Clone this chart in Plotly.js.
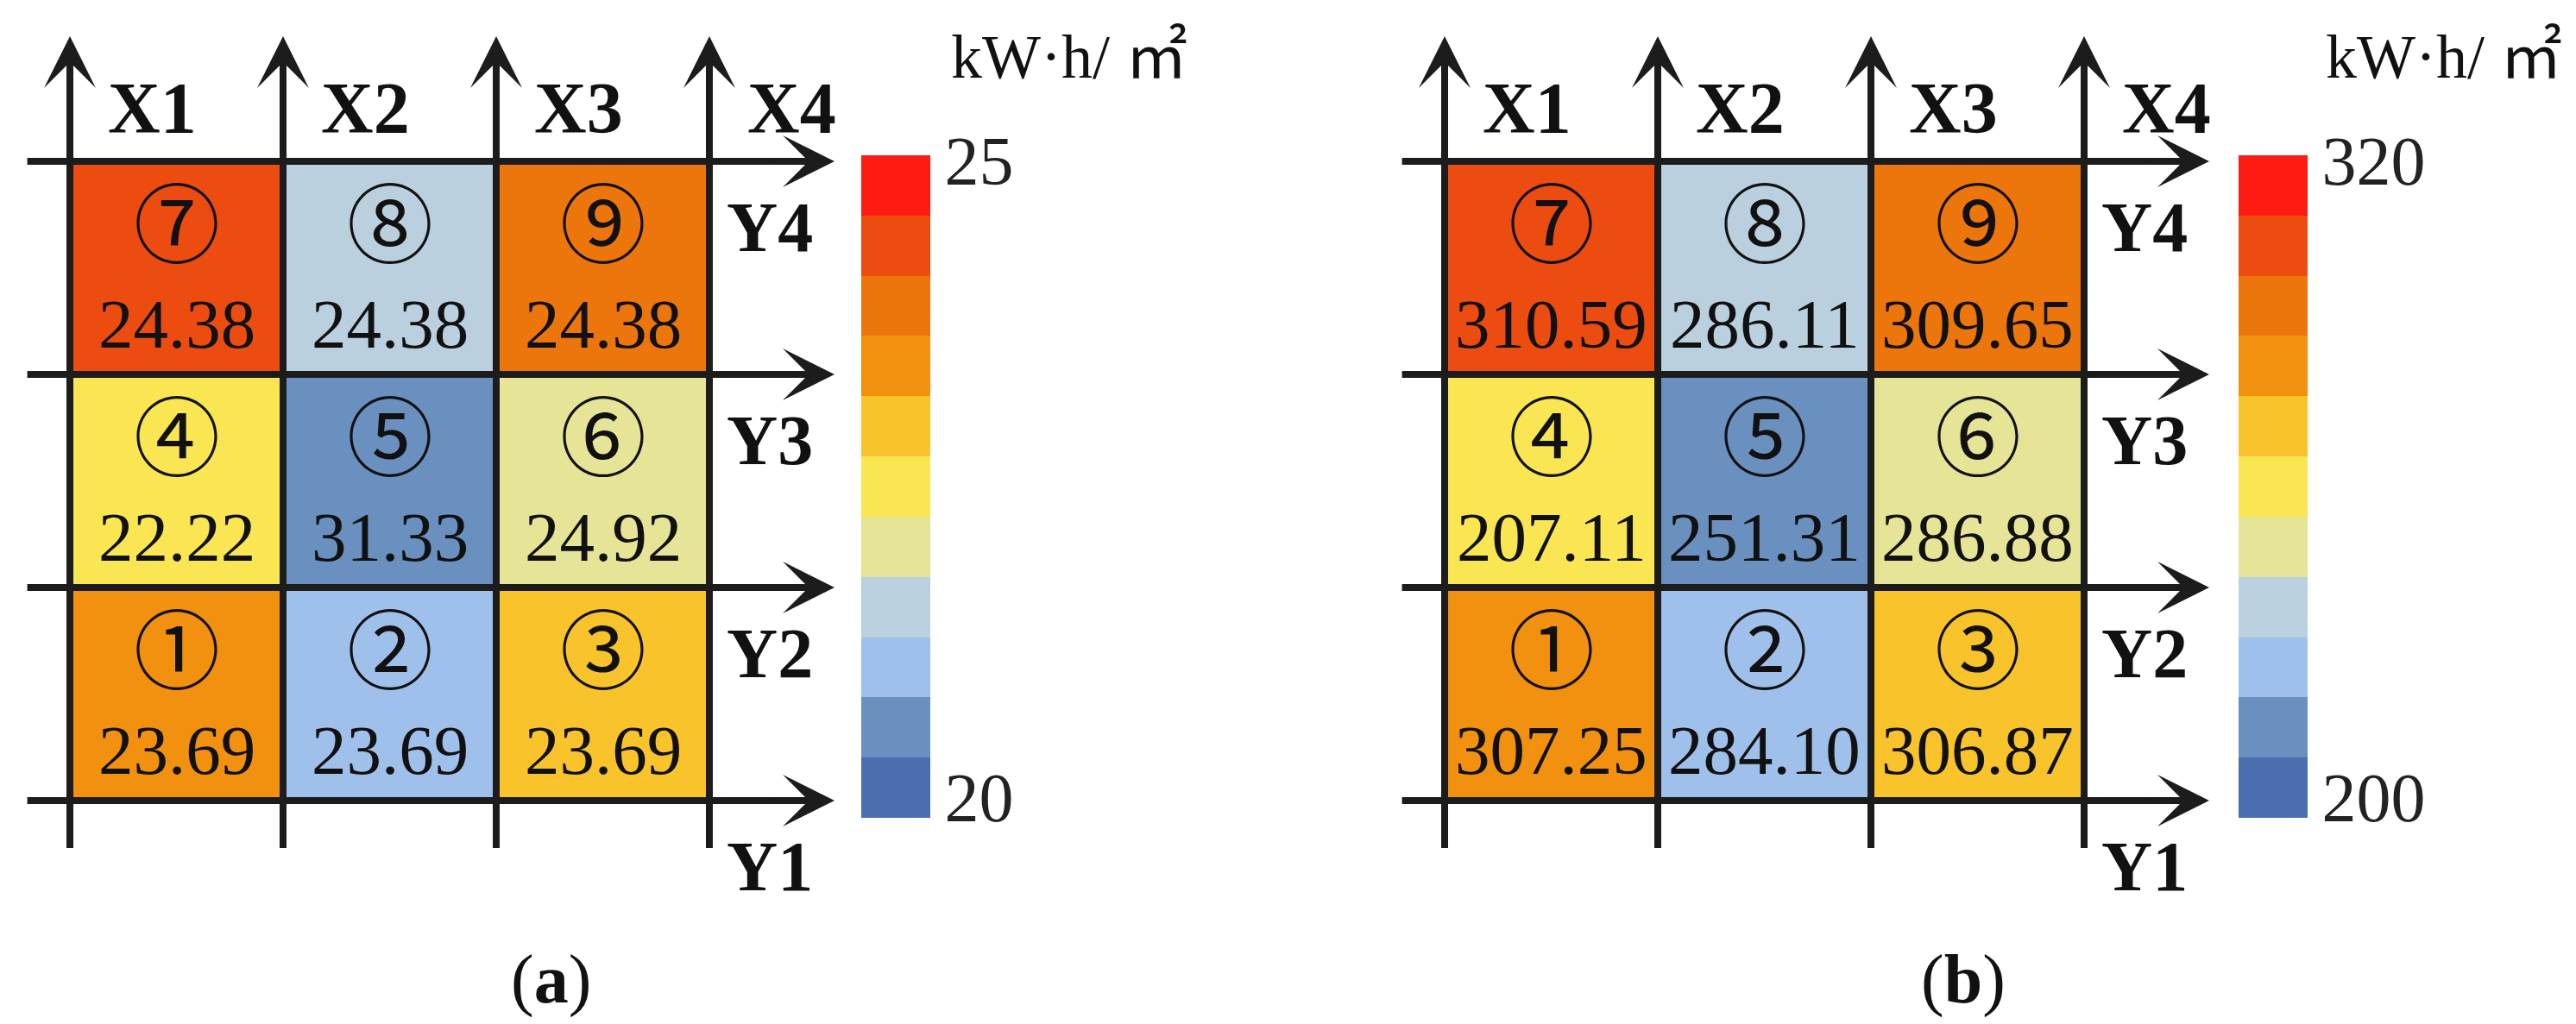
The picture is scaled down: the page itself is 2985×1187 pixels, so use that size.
<!DOCTYPE html>
<html><head><meta charset="utf-8">
<script src="https://cdn.plot.ly/plotly-3.0.1.min.js"></script>
<style>html,body{margin:0;padding:0;background:#fff}</style>
</head><body><div id="chart" style="width:2985px;height:1187px"></div>
<script>
// ---- data ----
const columnLabels = ['X1','X2','X3','X4'];
const rowLabels = ['Y1','Y2','Y3','Y4'];
// rows listed bottom -> top, columns left -> right
const cellIds = [['①','②','③'],['④','⑤','⑥'],['⑦','⑧','⑨']];
const valuesA = [[23.69,23.69,23.69],[22.22,31.33,24.92],[24.38,24.38,24.38]];
const valuesB = [[307.25,284.10,306.87],[207.11,251.31,286.88],[310.59,286.11,309.65]];
// colour band of each cell (1 = bottom band of the colour bar, 11 = top band)
const colorLevel = [[8,3,7],[6,2,5],[10,4,9]];
const bandColors = ['#4A6EAF','#6A90C0','#A0C0EC','#BAD0DE','#E6E496','#F9E652','#F9C32C','#F29010','#EC760C','#EC4C10','#FF1A12'];
const scaleA = [20,25];
const scaleB = [200,320];
const unitLabel = 'kW·h/ ㎡';
const panelLabels = ['(<b>a</b>)','(<b>b</b>)'];

// ---- drawing ----
const SERIF = 'Liberation Serif';
const LINE = '#1c1c1c';
const U = 247;               // pixels per cell
const W = 2985, H = 1187;
const nb = bandColors.length;
const colorscale = [];
bandColors.forEach((c,i)=>{colorscale.push([i/nb,c]);colorscale.push([(i+1)/nb,c]);});

const traces = [], shapes = [], annotations = [];

function panel(idx, values, scale, cbX, labelX){
  const xs = idx===0 ? 'x' : 'x2', ys = idx===0 ? 'y' : 'y2';
  const [zmin,zmax] = scale;
  const z = colorLevel.map(r=>r.map(l=>zmin+(l-0.5)*(zmax-zmin)/nb));
  traces.push({
    type:'heatmap', xaxis:xs, yaxis:ys,
    x:[0.5,1.5,2.5], y:[0.5,1.5,2.5], z:z,
    zmin:zmin, zmax:zmax, colorscale:colorscale, zsmooth:false,
    hoverinfo:'skip',
    showscale:true,
    colorbar:{
      x:cbX, xanchor:'left', xpad:0, ypad:0,
      y:1-564/H, yanchor:'middle', len:768, lenmode:'pixels',
      thickness:80, thicknessmode:'pixels', outlinewidth:0,
      tickvals:[zmin+0.031*(zmax-zmin), zmax-0.008*(zmax-zmin)],
      ticktext:[String(zmin), String(zmax)],
      ticks:'', tickfont:{family:SERIF,size:80,color:'#222'}
    }
  });
  // grid lines with arrow heads
  for(let i=0;i<4;i++){
    shapes.push({type:'line',xref:xs,yref:ys,x0:i,x1:i,y0:-0.223,y1:3.45,layer:'above',line:{color:LINE,width:8}});
    shapes.push({type:'line',xref:xs,yref:ys,x0:-0.2,x1:3.45,y0:i,y1:i,layer:'above',line:{color:LINE,width:8}});
    annotations.push({xref:xs,yref:ys,axref:xs,ayref:ys,x:i,y:3.587,ax:i,ay:3.3,text:'',showarrow:true,arrowhead:3,arrowsize:1.25,arrowwidth:8,arrowcolor:LINE});
    annotations.push({xref:xs,yref:ys,axref:xs,ayref:ys,x:3.587,y:i,ax:3.3,ay:i,text:'',showarrow:true,arrowhead:3,arrowsize:1.25,arrowwidth:8,arrowcolor:LINE});
    annotations.push({xref:xs,yref:ys,x:i+0.17,y:3.251,xanchor:'left',yanchor:'middle',text:columnLabels[i],showarrow:false,font:{family:SERIF,size:84,color:'#111',weight:'bold'}});
    annotations.push({xref:xs,yref:ys,x:3.073,y:i-0.31,xanchor:'left',yanchor:'middle',text:rowLabels[i],showarrow:false,font:{family:SERIF,size:82,color:'#111',weight:'bold'}});
  }
  // cell texts
  for(let r=0;r<3;r++){
    for(let c=0;c<3;c++){
      annotations.push({xref:xs,yref:ys,x:c+0.5,y:r+0.729,text:cellIds[r][c],showarrow:false,xanchor:'center',yanchor:'middle',font:{family:'Noto Sans CJK SC',size:100,color:'#111'}});
      annotations.push({xref:xs,yref:ys,x:c+0.5,y:r+0.235,text:values[r][c].toFixed(2),showarrow:false,xanchor:'center',yanchor:'middle',font:{family:SERIF,size:81,color:'#111'}});
    }
  }
  annotations.push({xref:xs,yref:ys,x:4.126,y:3.49,xanchor:'left',yanchor:'middle',text:unitLabel,showarrow:false,font:{family:SERIF+', Noto Sans CJK SC',size:72,color:'#111'}});
  annotations.push({xref:'paper',yref:'paper',x:labelX,y:1-1135/H,xanchor:'center',yanchor:'middle',text:panelLabels[idx],showarrow:false,font:{family:SERIF,size:80,color:'#111'}});
}

panel(0, valuesA, scaleA, 998/W, 638/W);
panel(1, valuesB, scaleB, 2594/W, 2275/W);

const hidden = {visible:false, fixedrange:true, showgrid:false, zeroline:false};
const yRange = [(928-H)/U, 928/U];
const layout = {
  width:W, height:H, margin:{l:0,r:0,t:0,b:0},
  paper_bgcolor:'#fff', plot_bgcolor:'rgba(0,0,0,0)',
  showlegend:false,
  xaxis:Object.assign({domain:[0,0.5], range:[-81/U,(W/2-81)/U], anchor:'y'},hidden),
  yaxis:Object.assign({domain:[0,1], range:yRange, anchor:'x'},hidden),
  xaxis2:Object.assign({domain:[0.5,1], range:[(W/2-1674)/U,(W-1674)/U], anchor:'y2'},hidden),
  yaxis2:Object.assign({domain:[0,1], range:yRange, anchor:'x2'},hidden),
  shapes:shapes, annotations:annotations
};
Plotly.newPlot('chart', traces, layout, {displayModeBar:false, staticPlot:true});
</script></body></html>
